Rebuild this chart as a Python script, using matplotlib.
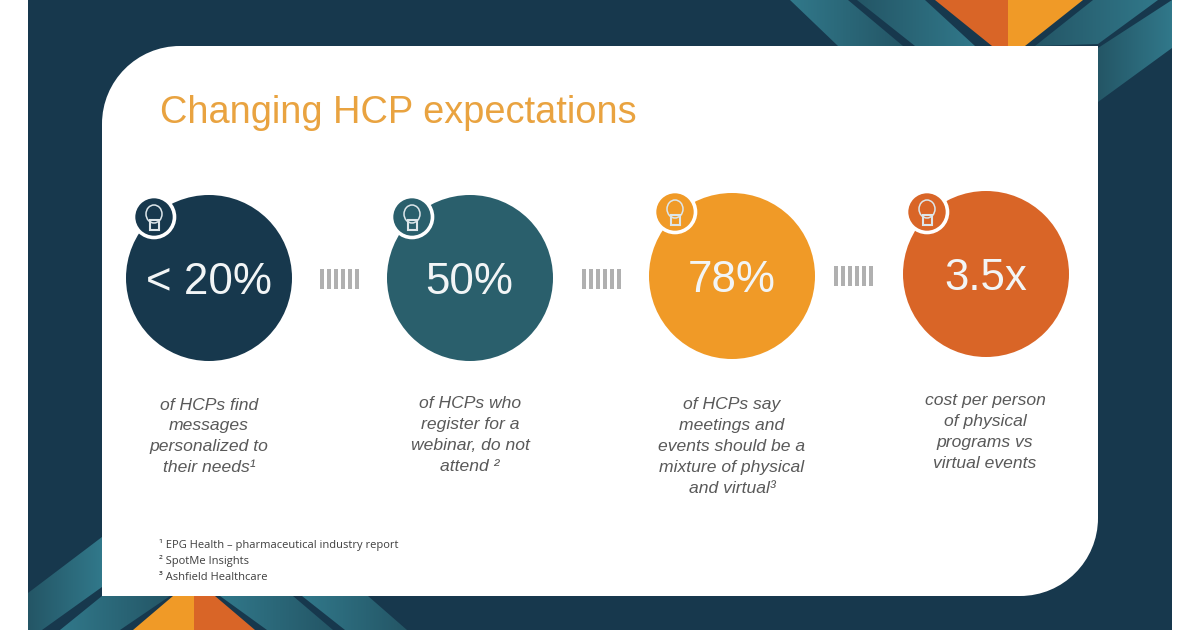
import numpy as np
import matplotlib
matplotlib.use("Agg")
import matplotlib.pyplot as plt
from matplotlib.patches import Circle, Polygon, Rectangle, PathPatch, Ellipse
from matplotlib.path import Path
from matplotlib.colors import LinearSegmentedColormap

# ---- content
title = "Changing HCP expectations"
headlines = ["< 20%", "50%", "78%", "3.5x"]
captions = [
    ["of HCPs find", "messages", "personalized to", "their needs¹"],
    ["of HCPs who", "register for a", "webinar, do not", "attend ²"],
    ["of HCPs say", "meetings and", "events should be a", "mixture of physical", "and virtual³"],
    ["cost per person", "of physical", "programs vs", "virtual events"],
]
footnotes = ["¹ EPG Health – pharmaceutical industry report", "² SpotMe Insights", "³ Ashfield Healthcare"]

# ---- palette
NAVY, TEAL, ORANGE, RUST = "#17384D", "#2A5F6C", "#F09A27", "#D96527"
TEAL_L, TEAL_D = "#31788A", "#245666"
circle_colors = [NAVY, TEAL, ORANGE, RUST]
badge_colors = [NAVY, TEAL, ORANGE, RUST]

# ---- layout (pixels)
cx = [209, 470, 732, 986]
cy = [278, 278, 276, 274]
bx = [154, 412, 675, 927]
by = [217, 217, 212, 212]
cap_x = [209, 470, 732, 985]
cap_y0 = [405, 404, 405, 401]
sep_x = [320, 582, 834]
sep_y = [269, 269, 266]

fig = plt.figure(figsize=(12, 6.3), dpi=100, facecolor="white")
ax = fig.add_axes([0, 0, 1, 1])
ax.set_xlim(0, 1200); ax.set_ylim(630, 0); ax.axis("off")
FONT = "Liberation Sans"

ax.add_patch(Rectangle((28, 0), 1144, 630, fc=NAVY, ec="none", zorder=1))

cmap = LinearSegmentedColormap.from_list("t", [TEAL_D, TEAL_L])
def band(pts, flip=False):
    p = Polygon(pts, closed=True, fc="none", ec="none", zorder=2)
    ax.add_patch(p)
    xs = [q[0] for q in pts]; ys = [q[1] for q in pts]
    g = np.linspace(1, 0, 64)[None, :] if flip else np.linspace(0, 1, 64)[None, :]
    im = ax.imshow(g, extent=[min(xs), max(xs), max(ys), min(ys)], cmap=cmap, vmin=0, vmax=1,
                   aspect="auto", zorder=2)
    im.set_clip_path(p)
def poly(pts, c, z=3):
    ax.add_patch(Polygon(pts, closed=True, fc=c, ec="none", zorder=z))

# top decoration
band([(790, 0), (848, 0), (903, 46), (838, 46)], flip=True)
band([(857, 0), (925, 0), (975, 46), (915, 46)])
band([(1093, 0), (1158, 0), (1098, 44), (1035, 46)])
band([(1172, 0), (1172, 48), (1098, 102), (1098, 48)])
poly([(935, 0), (1008, 0), (1008, 46), (992, 46)], RUST)
poly([(1008, 0), (1083, 0), (1025, 46), (1008, 46)], ORANGE)
# bottom decoration
band([(102, 537), (102, 587), (28, 640), (28, 593)])
band([(170, 596), (102, 596), (60, 630), (120, 630)], flip=True)
band([(220, 596), (293, 596), (333, 630), (267, 630)], flip=True)
band([(302, 596), (368, 596), (407, 630), (345, 630)], flip=True)
poly([(173, 596), (194, 596), (194, 630), (133, 630)], ORANGE)
poly([(194, 596), (215, 596), (255, 630), (194, 630)], RUST)

# card with two rounded corners
L, R, T, B, r = 102, 1098, 46, 596, 78
k = 0.5523 * r
verts = [(L + r, T), (R, T), (R, B - r), (R, B - r + k), (R - r + k, B), (R - r, B),
         (L, B), (L, T + r), (L, T + r - k), (L + r - k, T), (L + r, T), (L + r, T)]
codes = [Path.MOVETO, Path.LINETO, Path.LINETO, Path.CURVE4, Path.CURVE4, Path.CURVE4,
         Path.LINETO, Path.LINETO, Path.CURVE4, Path.CURVE4, Path.CURVE4, Path.CLOSEPOLY]
ax.add_patch(PathPatch(Path(verts, codes), fc="white", ec="none", zorder=5))

ax.text(160, 113, title, color="#E9A340", fontsize=27.4, family=FONT, va="center", ha="left", zorder=6)

def bulb(x, y):
    w = "#DDE6EA"
    ax.add_patch(Ellipse((x, y - 3), 16, 18, fc="none", ec=w, lw=1.1, zorder=9))
    ax.add_patch(Rectangle((x - 4.5, y + 3), 9, 10, fc="none", ec=w, lw=1.5, zorder=9))

for i, h in enumerate(headlines):
    ax.add_patch(Circle((cx[i], cy[i]), 83, fc=circle_colors[i], ec="none", zorder=6))
    ax.text(cx[i] - 0.5, cy[i] + 4, h, color="#F2F5F6", fontsize=31.6, family=FONT, ha="center", va="center", zorder=7)
    ax.add_patch(Circle((bx[i], by[i]), 20.5, fc=badge_colors[i], ec="white", lw=2.6, zorder=8))
    bulb(bx[i], by[i])
    for j, line in enumerate(captions[i]):
        ax.text(cap_x[i], cap_y0[i] + j * 20.9, line, color="#595959", fontsize=12.6, style="italic",
                family=FONT, ha="center", va="center", zorder=7)

for sx, sy in zip(sep_x, sep_y):
    for n in range(6):
        ax.add_patch(Rectangle((sx + n * 7, sy), 4.4, 20, fc="#B0B0B0", ec="none", zorder=6))

for j, t in enumerate(footnotes):
    ax.text(159, 545 + j * 16, t, color="#3F3F3F", fontsize=8.05, family="Open Sans", ha="left", va="center", zorder=7)

fig.savefig("out.png", dpi=100)
